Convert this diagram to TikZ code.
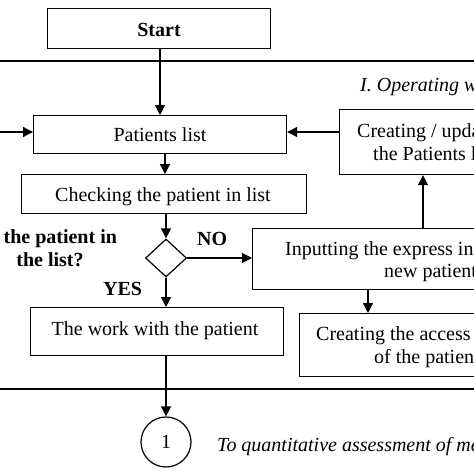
\documentclass[tikz,border=0pt]{standalone}
\usepackage{fontspec}
\setmainfont{Liberation Serif}
\usetikzlibrary{arrows.meta,shapes.geometric}
\begin{document}
\begin{tikzpicture}[x=1pt,y=-1pt,
  box/.style={draw,line width=1.2pt,rectangle,anchor=north west,inner sep=0pt},
  txt/.style={font=\fontsize{20}{23}\selectfont,inner sep=0pt},
  btxt/.style={inner sep=0pt,font=\fontsize{20}{23}\selectfont\bfseries},
  itxt/.style={inner sep=0pt,font=\fontsize{20}{23}\selectfont\itshape},
  arr/.style={line width=1.2pt,-{Triangle[length=10pt,width=10pt]}},
  ln/.style={line width=1.2pt}]
\useasboundingbox (0,0) rectangle (474,474);
\clip (0,0) rectangle (474,474);
% separator lines
\draw[ln] (0,61) -- (474,61);
\draw[ln] (0,389) -- (474,389);
% boxes
\node[box,minimum width=223pt,minimum height=40pt] (start) at (47,8) {};
\node[btxt,anchor=base] (tstart) at (159,36) {Start};
\node[box,minimum width=253pt,minimum height=38pt] (plist) at (33,115) {};
\node[txt,anchor=base] (tplist) at (160,141) {Patients list};
\node[box,minimum width=300pt,minimum height=65pt] (cupd) at (339,109) {};
\node[txt,anchor=base west] (tcupd1) at (357,137) {Creating / updating};
\node[txt,anchor=base west] (tcupd2) at (373,160) {the Patients list};
\node[box,minimum width=285pt,minimum height=39pt] (check) at (21,174) {};
\node[txt,anchor=base] (tcheck) at (163,201) {Checking the patient in list};
\node[draw,line width=1.2pt,diamond,minimum width=41pt,minimum height=38pt,inner sep=0pt] (dia) at (166,258) {};
\node[btxt,anchor=base] (q1) at (50,243) {Is the patient in};
\node[btxt,anchor=base] (q2) at (50,266) {the list?};
\node[btxt,anchor=base west] (no) at (197,245) {NO};
\node[btxt,anchor=base west] (yes) at (103,295) {YES};
\node[box,minimum width=300pt,minimum height=61pt] (inp) at (252,228) {};
\node[txt,anchor=base west] (tinp1) at (285,255) {Inputting the express information};
\node[txt,anchor=base west] (tinp2) at (384,277) {new patient};
\node[box,minimum width=300pt,minimum height=63pt] (acc) at (299,313) {};
\node[txt,anchor=base west] (tacc1) at (316,340) {Creating the access to};
\node[txt,anchor=base west] (tacc2) at (374,363) {of the patient};
\node[box,minimum width=253pt,minimum height=48pt] (work) at (30,307) {};
\node[txt,anchor=base] (twork) at (155,335) {The work with the patient};
\node[draw,line width=1.2pt,circle,minimum size=50pt,inner sep=0pt,txt] (one) at (166,442) {1};
\node[itxt,anchor=base west] (opt) at (360,91) {I. Operating with the patients list};
\node[itxt,anchor=base west] (tquant) at (217,451) {To quantitative assessment of medical care};
% helper coordinates
\coordinate (xa) at (160,0);
\coordinate (xc) at (165,0);
\coordinate (xu) at (423,0);
\coordinate (xd) at (368,0);
\coordinate (ya) at (0,132);
\coordinate (lin) at (-5,132);
% connectors
\draw[arr] (start.south -| xa) -- (plist.north -| xa);
\draw[arr] (plist.south -| xc) -- (check.north -| xc);
\draw[arr] (check.south -| dia) -- (dia.north);
\draw[arr] (dia.south) -- (work.north -| dia);
\draw[arr] (work.south -| dia) -- (one.north);
\draw[arr] (dia.east) -- (inp.west |- dia.east);
\draw[arr] (inp.north -| xu) -- (cupd.south -| xu);
\draw[arr] (inp.south -| xd) -- (acc.north -| xd);
\draw[arr] (cupd.west |- ya) -- (plist.east |- ya);
\draw[arr] (lin) -- (plist.west |- lin);
\end{tikzpicture}
\end{document}
